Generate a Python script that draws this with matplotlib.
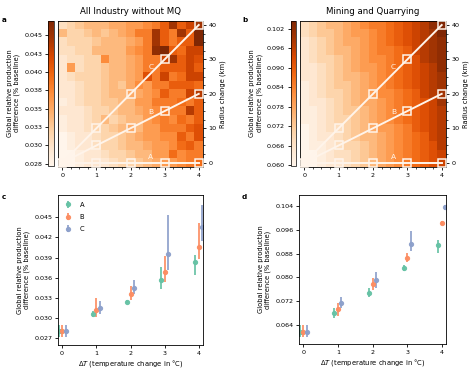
import numpy as np
import matplotlib
matplotlib.use("Agg")
import matplotlib.pyplot as plt
from matplotlib.ticker import MultipleLocator

# ---------------- data ----------------
dT_grid = [0, 0.25, 0.5, 0.75, 1, 1.25, 1.5, 1.75, 2, 2.25, 2.5, 2.75, 3, 3.25, 3.5, 3.75, 4]
radius_grid = [40, 37.5, 35, 32.5, 30, 27.5, 25, 22.5, 20, 17.5, 15, 12.5, 10, 7.5, 5, 2.5, 0]

# shade levels (0 = lightest, 9 = darkest), rows top (40 km) -> bottom (0 km)
heat_a_levels = [
    [1.5, 2, 2.5, 3, 3, 3, 3.5, 3.5, 4, 4, 4.5, 5, 6, 8, 6, 7, 8],
    [3, 2, 2, 2.5, 3, 2.5, 3, 3.5, 4, 5, 5, 8, 6, 5, 8, 6, 9],
    [1.5, 2, 2, 2, 2.5, 3, 3, 3, 3.5, 4, 5, 8, 6, 5, 6, 6, 9],
    [1.5, 1.5, 2, 2, 3, 3, 3, 3, 4, 4.5, 5, 8.5, 9, 6, 5.5, 7, 7],
    [1, 1.5, 1.5, 2, 2, 4.5, 3, 3, 3.5, 4, 5, 5, 7, 8, 6, 7, 6.5],
    [1, 4, 1.5, 2, 2, 2.5, 3, 3, 3.5, 4, 5, 5, 6, 6, 6, 7, 6],
    [1, 1.5, 2, 2, 2, 2.5, 3, 3, 3.5, 4, 6.5, 5, 7, 5, 5.5, 7, 7],
    [1, 1, 1.5, 2, 2, 2.5, 3, 2.5, 3.5, 4.5, 4, 5, 5, 6, 6, 6, 5.5],
    [1, 1, 1.5, 2, 2, 2.5, 3, 3, 3.5, 3.5, 4, 4.5, 6, 5, 5, 7, 7.5],
    [0.5, 1, 1.5, 2, 2, 2.5, 2.5, 3, 3, 4, 4, 5, 5, 5, 5.5, 5, 6],
    [1, 1, 1, 1.5, 2, 2, 2.5, 3, 3, 3.5, 4, 4.5, 5, 5, 5, 7.5, 6],
    [0.5, 1, 1, 1.5, 2, 3, 2, 2.5, 3, 3, 4, 4.5, 5, 4.5, 5.5, 5, 6],
    [0.5, 1, 1, 1.5, 2, 2, 2.5, 3, 3.5, 3, 4, 4, 5, 5, 5, 6, 6.5],
    [0, 0.5, 1, 1, 1.5, 2, 2, 2.5, 3, 3.5, 4, 4, 4.5, 4.5, 6, 5, 6.5],
    [0, 0.5, 1, 1, 1.5, 2, 2, 2.5, 3, 3, 3.5, 4, 4, 4.5, 5.5, 6, 5],
    [0, 0, 0.5, 1, 1, 1.5, 2, 2, 2.5, 3, 3, 4, 4, 5.5, 4.5, 5, 5],
    [0, 0, 0.5, 1, 1, 1, 1.5, 2, 2, 2.5, 3, 3.5, 4, 4, 4.5, 5, 5.5],
]
heat_b_levels = [
    [1.5, 2, 2.5, 3, 3, 3.5, 4, 4.5, 5, 5, 5.5, 6, 6.5, 7, 7.5, 8.5, 9],
    [1.5, 2, 2.5, 2.5, 3, 3.5, 4, 4, 4.5, 5, 5.5, 6, 6.5, 7, 7.5, 8, 9],
    [1, 1.5, 2, 2.5, 3, 3.5, 3.5, 4, 4.5, 5, 5.5, 6, 6.5, 7, 7.5, 8, 8.5],
    [1, 1.5, 2, 2.5, 3, 3, 3.5, 4, 4.5, 5, 5, 5.5, 6, 7, 7.5, 8, 8.5],
    [1, 1.5, 2, 2, 2.5, 3, 3.5, 4, 4.5, 4.5, 5, 5.5, 6, 6.5, 7.5, 8, 8.5],
    [1, 1, 1.5, 2, 2.5, 3, 3.5, 4, 4, 4.5, 5, 5.5, 6, 6.5, 7, 7.5, 8.5],
    [1, 1, 1.5, 2, 2.5, 3, 3, 3.5, 4, 4.5, 5, 5.5, 6, 6.5, 7, 7.5, 8],
    [0.5, 1, 1.5, 2, 2.5, 2.5, 3, 3.5, 4, 4.5, 5, 5.5, 6, 6.5, 7, 7.5, 8],
    [0.5, 1, 1.5, 2, 2, 2.5, 3, 3.5, 4, 4.5, 4.5, 5, 5.5, 6, 7, 7.5, 8],
    [0.5, 1, 1, 1.5, 2, 2.5, 3, 3.5, 3.5, 4, 4.5, 5, 5.5, 6, 6.5, 7, 8],
    [0.5, 0.5, 1, 1.5, 2, 2.5, 2.5, 3, 3.5, 4, 4.5, 5, 5.5, 6, 6.5, 7, 7.5],
    [0.5, 0.5, 1, 1.5, 2, 2, 2.5, 3, 3.5, 4, 4.5, 5, 5.5, 6, 6.5, 7, 7.5],
    [0, 0.5, 1, 1.5, 1.5, 2, 2.5, 3, 3.5, 4, 4, 4.5, 5, 6, 6.5, 7, 7.5],
    [0, 0.5, 1, 1, 1.5, 2, 2.5, 3, 3, 3.5, 4, 4.5, 5, 5.5, 6, 7, 7.5],
    [0, 0.5, 0.5, 1, 1.5, 2, 2, 2.5, 3, 3.5, 4, 4.5, 5, 5.5, 6, 6.5, 7.5],
    [0, 0, 0.5, 1, 1.5, 1.5, 2, 2.5, 3, 3.5, 4, 4.5, 5, 5.5, 6, 6.5, 7],
    [0, 0, 0.5, 1, 1, 1.5, 2, 2.5, 3, 3.5, 4, 4.5, 5, 5.5, 6, 6.5, 7],
]
range_a = (0.0272, 0.0470)
range_b = (0.0598, 0.1045)
cbar_ticks_a = [0.0275, 0.030, 0.0325, 0.035, 0.0375, 0.040, 0.0425, 0.045]
cbar_labels_a = ["0.028", "0.030", "0.033", "0.035", "0.038", "0.040", "0.043", "0.045"]
cbar_ticks_b = [0.060, 0.066, 0.072, 0.078, 0.084, 0.090, 0.096, 0.102]
cbar_labels_b = ["0.060", "0.066", "0.072", "0.078", "0.084", "0.090", "0.096", "0.102"]

path_dT = [0, 1, 2, 3, 4]
path_A = [0, 0, 0, 0, 0]
path_B = [0, 5, 10, 15, 20]
path_C = [0, 10, 20, 30, 40]

scen_names = ["A", "B", "C"]
scen_colors = ["#66c2a5", "#fc8d62", "#8da0cb"]
scen_offsets = [-0.1, 0.0, 0.1]
dT_points = [0, 1, 2, 3, 4]

# panel c: mid, low, high
c_mid = {"A": [0.0281, 0.0306, 0.03245, 0.0357, 0.0383],
         "B": [0.0281, 0.0312, 0.0336, 0.0368, 0.0406],
         "C": [0.0281, 0.0315, 0.0344, 0.0396, 0.0436]}
c_lo = {"A": [0.0272, 0.0301, 0.0322, 0.0343, 0.0364],
        "B": [0.0272, 0.0301, 0.0327, 0.0354, 0.0388],
        "C": [0.0272, 0.0306, 0.0336, 0.0372, 0.0414]}
c_hi = {"A": [0.0290, 0.0311, 0.0327, 0.0376, 0.0394],
        "B": [0.0290, 0.0330, 0.0348, 0.0392, 0.0441],
        "C": [0.0290, 0.0326, 0.0356, 0.0453, 0.0468]}
# panel d
d_mid = {"A": [0.0618, 0.0679, 0.0749, 0.0831, 0.0909],
         "B": [0.0618, 0.0694, 0.0778, 0.0864, 0.0982],
         "C": [0.0618, 0.0713, 0.0791, 0.0912, 0.1036]}
d_lo = {"A": [0.0600, 0.0662, 0.0734, 0.0822, 0.0883],
        "B": [0.0600, 0.0670, 0.0758, 0.0853, 0.0976],
        "C": [0.0600, 0.0696, 0.0763, 0.0890, 0.1028]}
d_hi = {"A": [0.0640, 0.0696, 0.0764, 0.0840, 0.0926],
        "B": [0.0640, 0.0713, 0.0797, 0.0883, 0.0988],
        "C": [0.0640, 0.0735, 0.0819, 0.0957, 0.1045]}

# ---------------- figure ----------------
plt.rcParams["font.family"] = ["DejaVu Sans"]
W, H = 474, 372
fig = plt.figure(figsize=(W / 100, H / 100), dpi=100)

def box(x0, y0, x1, y1):
    return [x0 / W, 1 - y1 / H, (x1 - x0) / W, (y1 - y0) / H]

TICK_FS = 4.6
LAB_FS = 4.9
YLAB = "Global relative production\ndifference (% baseline)"


def heat_panel(cax_box, ax_box, levels, vrange, ticks, labels, title, square0):
    lv = np.array(levels, dtype=float)
    vals = vrange[0] + lv / 9.0 * (vrange[1] - vrange[0])
    ax = fig.add_axes(ax_box)
    cax = fig.add_axes(cax_box)
    im = ax.imshow(vals, cmap="Oranges", vmin=vrange[0], vmax=vrange[1], aspect="auto",
                   extent=(dT_grid[0] - 0.125, dT_grid[-1] + 0.125,
                           radius_grid[-1] - 1.25, radius_grid[0] + 1.25),
                   origin="upper", interpolation="nearest")
    lc = "#fff4ea"
    for ys in (path_A, path_B, path_C):
        ax.plot(path_dT, ys, color=lc, lw=1.4, zorder=3)
        ax.plot(path_dT[1:], ys[1:], ls="none", marker="s", ms=6.3, mfc="none",
                mec=lc, mew=1.1, zorder=4)
    if square0:
        ax.plot([0], [0], ls="none", marker="s", ms=6.3, mfc="none", mec=lc, mew=1.1, zorder=4)
    ax.text(2.6, 27.8, "C", color=lc, fontsize=5.4, ha="center", va="center")
    ax.text(2.6, 14.8, "B", color=lc, fontsize=5.4, ha="center", va="center")
    ax.text(2.6, 1.8, "A", color=lc, fontsize=5.4, ha="center", va="center")
    ax.set_xlim(-0.125, 4.125)
    ax.set_ylim(-1.25, 41.25)
    ax.yaxis.tick_right()
    ax.yaxis.set_label_position("right")
    ax.set_yticks([0, 10, 20, 30, 40])
    ax.yaxis.set_minor_locator(MultipleLocator(2.5))
    ax.set_xticks([0, 1, 2, 3, 4])
    ax.xaxis.set_minor_locator(MultipleLocator(0.25))
    ax.tick_params(which="major", labelsize=TICK_FS, length=2.5, width=0.6, pad=1.5)
    ax.tick_params(which="minor", length=1.5, width=0.5)
    ax.set_ylabel("Radius change (km)", fontsize=LAB_FS, labelpad=2)
    for s in ax.spines.values():
        s.set_linewidth(0.6)
    ax.set_title(title, fontsize=6.2, pad=5)

    cb = fig.colorbar(im, cax=cax)
    cb.outline.set_linewidth(0.5)
    cax.yaxis.set_ticks_position("left")
    cax.yaxis.set_label_position("left")
    cb.set_ticks(ticks)
    cb.set_ticklabels(labels)
    cax.tick_params(labelsize=TICK_FS, length=2.5, width=0.6, pad=1.5)
    cb.set_label(YLAB, fontsize=LAB_FS, labelpad=3)
    cb.ax.minorticks_off()
    return ax


heat_panel(box(48, 20.5, 54, 166), box(58, 20.7, 203, 167), heat_a_levels, range_a,
           cbar_ticks_a, cbar_labels_a, "All Industry without MQ", True)
heat_panel(box(290.5, 20.5, 295.5, 166), box(300, 20.7, 446, 167), heat_b_levels, range_b,
           cbar_ticks_b, cbar_labels_b, "Mining and Quarrying", True)


def err_panel(ax_box, mid, lo, hi, ylim, yticks, legend):
    ax = fig.add_axes(ax_box)
    for name, col, off in zip(scen_names, scen_colors, scen_offsets):
        x = np.array(dT_points) + off
        m = np.array(mid[name])
        e = np.vstack([m - np.array(lo[name]), np.array(hi[name]) - m])
        ax.errorbar(x, m, yerr=e, fmt="o", color=col, ms=2.8, elinewidth=1.3,
                    capsize=0, label=name, alpha=0.95)
    ax.set_xlim(-0.12, 4.12)
    ax.set_ylim(*ylim)
    ax.set_xticks([0, 1, 2, 3, 4])
    ax.set_yticks(yticks)
    ax.set_yticklabels(["%.3f" % t for t in yticks])
    ax.tick_params(labelsize=TICK_FS, length=2.5, width=0.6, pad=1.5)
    for s in ax.spines.values():
        s.set_linewidth(0.6)
    ax.set_xlabel(r"$\Delta T$ (temperature change in °C)", fontsize=LAB_FS, labelpad=2)
    ax.set_ylabel(YLAB, fontsize=LAB_FS, labelpad=3)
    if legend:
        ax.legend(loc="upper left", fontsize=LAB_FS, frameon=False, handlelength=1.0,
                  handletextpad=1.2, borderaxespad=0.6, labelspacing=0.9)
    return ax


err_panel(box(58, 195, 203, 345), c_mid, c_lo, c_hi, (0.0260, 0.0483),
          [0.027, 0.030, 0.033, 0.036, 0.039, 0.042, 0.045], True)
err_panel(box(299, 195, 446, 344), d_mid, d_lo, d_hi, (0.0576, 0.1077),
          [0.064, 0.072, 0.080, 0.088, 0.096, 0.104], False)

for letter, (px, py) in zip("abcd", [(2, 20), (242, 20), (2, 197), (242, 197)]):
    fig.text(px / W, 1 - py / H, letter, fontsize=5.2, fontweight="bold", ha="left", va="center")

fig.savefig("out.png", dpi=100)
